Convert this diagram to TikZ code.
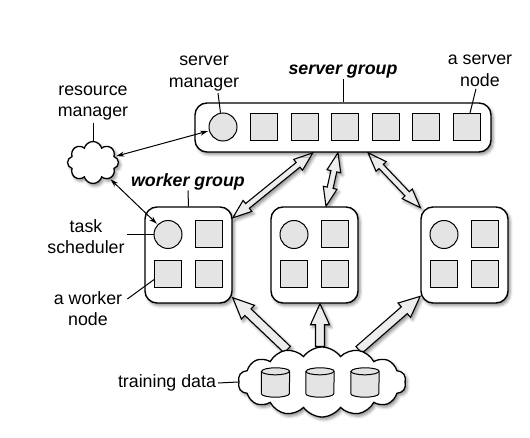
\documentclass[tikz,border=0pt]{standalone}
\usepackage{fontspec}
\setmainfont{Liberation Sans}
\usepackage{xcolor}
\usetikzlibrary{calc,positioning,shapes.symbols,shadows.blur,arrows.meta,backgrounds}
\definecolor{nodegray}{HTML}{E4E4E4}
\definecolor{pipegray}{HTML}{EDEDED}

% one-way fat arrow from #1 to #2
\newcommand{\fatarrow}[2]{%
  \path[fatpipe] let \p1=($(#2)-(#1)$), \n1={atan2(\y1,\x1)}, \n2={veclen(\x1,\y1)} in
    [shift={(#1)}, rotate=\n1]
    (0pt,4.5pt) -- ({\n2-21pt},4.5pt) -- ({\n2-21pt},9.5pt) -- (\n2,0pt)
    -- ({\n2-21pt},-9.5pt) -- ({\n2-21pt},-4.5pt) -- (0pt,-4.5pt) -- cycle;}
% two-way fat arrow between #1 and #2
\newcommand{\fatlink}[2]{%
  \path[fatpipe] let \p1=($(#2)-(#1)$), \n1={atan2(\y1,\x1)}, \n2={veclen(\x1,\y1)} in
    [shift={(#1)}, rotate=\n1]
    (0pt,0pt) -- (19pt,7pt) -- (19pt,3pt) -- ({\n2-19pt},3pt) -- ({\n2-19pt},7pt) -- (\n2,0pt)
    -- ({\n2-19pt},-7pt) -- ({\n2-19pt},-3pt) -- (19pt,-3pt) -- (19pt,-7pt) -- cycle;}

\begin{document}
\begin{tikzpicture}[
    x=1pt, y=-1pt,
    font=\fontsize{17.8}{21.5}\selectfont,
    softshadow/.style={blur shadow={shadow xshift=2pt, shadow yshift=-2.5pt, shadow blur radius=3pt, shadow opacity=45}},
    lbl/.style={align=center, inner sep=0},
    lblline/.style={draw, line width=1pt},
    grpbox/.style={rectangle, draw, line width=1.4pt, rounded corners=12pt, fill=white, softshadow},
    mgr/.style={circle, draw, line width=1pt, fill=nodegray, minimum size=28pt, inner sep=0},
    unit/.style={rectangle, draw, line width=1pt, fill=nodegray, minimum size=27pt, inner sep=0},
    puff/.style={cloud, draw, line width=1.3pt, fill=white, softshadow},
    diskbox/.style={rectangle, minimum width=28pt, minimum height=29pt, inner sep=0},
    diskline/.style={draw, line width=1pt, fill=nodegray},
    biarrow/.style={draw, line width=1pt, {Stealth[length=8pt,width=5pt]}-{Stealth[length=8pt,width=5pt]}, shorten <=1pt, shorten >=1pt},
    fatpipe/.style={draw, line width=1.1pt, fill=pipegray, line join=miter, softshadow}]
\useasboundingbox (0,0) rectangle (530,438);

% server group
\node[grpbox, minimum width=296pt, minimum height=49pt] (srvgrp) at (343,127.5) {};
\node[mgr] (srvmgr) at (223,127) {};
\foreach \i/\x in {1/264,2/305,3/345,4/386,5/426,6/467}
    \node[unit] (srv\i) at (\x,127) {};

% worker groups
\foreach \i/\x in {1/188.5,2/314.5,3/464.5} {
    \node[grpbox, minimum width=87pt, minimum height=96pt] (wrk\i) at (\x,255) {};
    \node[mgr] (sched\i) at (\x-20.5,234.5) {};
    \node[unit] (wn\i-1) at (\x+20.5,234.5) {};
    \node[unit] (wn\i-2) at (\x-20.5,274.5) {};
    \node[unit] (wn\i-3) at (\x+20.5,274.5) {};
}

% resource manager and training data
\node[puff, cloud puffs=8, aspect=1.2, minimum width=51pt, minimum height=42pt] (resmgr) at (93,162.5) {};
\node[puff, cloud puffs=14, cloud puff arc=110, aspect=2.4, minimum width=168pt, minimum height=70pt] (data) at (322,382) {};
\foreach \i/\x in {1/275.5,2/320,3/365} {
    \node[diskbox] (db\i) at (\x,382.5) {};
    \path[diskline] ([yshift=-3.5pt]db\i.north west) -- ([yshift=3.5pt]db\i.south west)
        arc[start angle=180, end angle=360, x radius=14pt, y radius=3.5pt]
        -- ([yshift=-3.5pt]db\i.north east)
        arc[start angle=0, end angle=180, x radius=14pt, y radius=3.5pt] -- cycle;
    \path[draw, line width=1pt] ([yshift=-3.5pt]db\i.north west)
        arc[start angle=180, end angle=360, x radius=14pt, y radius=3.5pt];
}

% labels
\node[lbl] (srvmgrlbl) at (204,73.5) {server\\manager};
\node[lbl, font=\fontsize{17.8}{21.5}\selectfont\bfseries\itshape] (srvgrplbl) at (343,72) {server group};
\node[lbl] (srvlbl) at (480,71) {a server\\node};
\node[lbl] (resmgrlbl) at (93,103) {resource\\manager};
\node[lbl, font=\fontsize{17.8}{21.5}\selectfont\bfseries\itshape] (wrkgrplbl) at (188,182) {worker group};
\node[lbl] (schedlbl) at (86,236.5) {task\\scheduler};
\node[lbl] (wnlbl) at (88,308.5) {a worker\\node};
\node[lbl] (datalbl) at (167,383) {training data};

\path[lblline] ([xshift=14pt,yshift=-2pt]srvmgrlbl.south) -- (srvmgr.100);
\path[lblline] (srvgrplbl.south) -- (srvgrp.north);
\path[lblline] ([xshift=-4pt,yshift=-2pt]srvlbl.south) -- ([xshift=3pt]srv6.north);
\path[lblline] ([yshift=-2pt]resmgrlbl.south) -- (resmgr.north);
\path[lblline] (wrkgrplbl.south) -- (wrk1.north);
\path[lblline] ([xshift=2pt]schedlbl.east |- sched1.west) -- (sched1.west);
\coordinate (wnlblend) at ($(wnlbl.north east)+(5pt,-8pt)$);
\path[lblline] (wnlblend) -- (wn1-2.-160);
\path[lblline] ([xshift=2pt]datalbl.east) -- (data.west);

% control links
\path[biarrow] (resmgr) -- (srvmgr);
\path[biarrow] (resmgr) -- (sched1);

% data and parameter flows
\begin{scope}[on background layer]
\fatarrow{data.137}{wrk1.-44}
\fatarrow{[xshift=5.5pt]wrk2.south |- data.north}{[xshift=5.5pt]wrk2.south}
\fatarrow{data.41}{wrk3.-137}
\fatlink{wrk1.40}{[xshift=-30pt]srvgrp.south}
\fatlink{[xshift=11.5pt]wrk2.north}{[xshift=-5pt]srvgrp.south}
\fatlink{wrk3.133}{[xshift=25pt]srvgrp.south}
\end{scope}

\end{tikzpicture}
\end{document}
